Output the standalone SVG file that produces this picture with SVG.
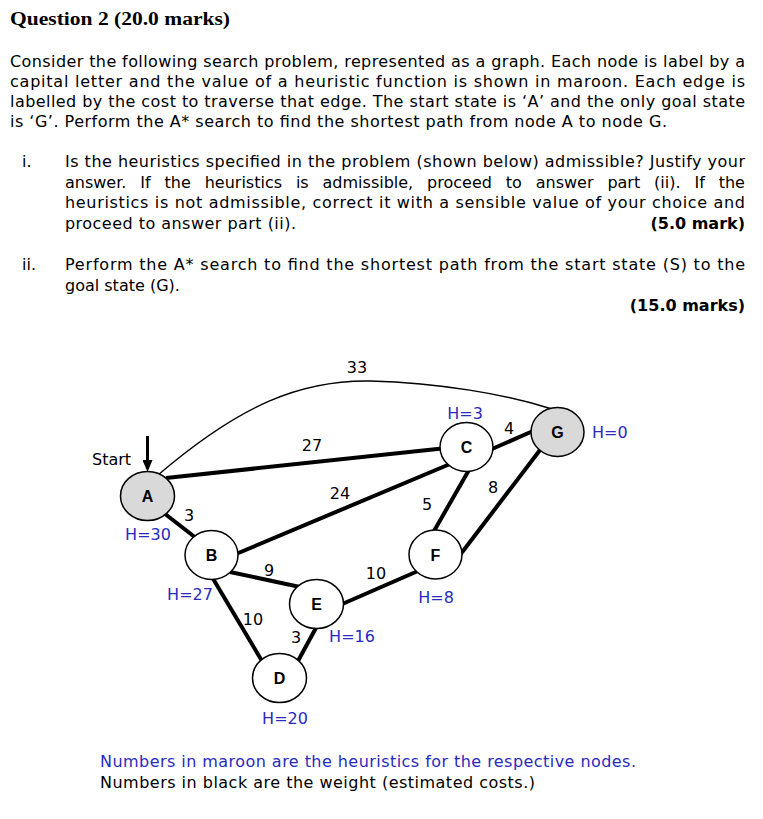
<svg xmlns="http://www.w3.org/2000/svg" width="763" height="819" viewBox="0 0 763 819">
<style>
.t{font-family:"DejaVu Sans",Verdana,sans-serif;font-size:16px;fill:#000}
.b{font-weight:bold}
.title{font-family:"Liberation Serif","DejaVu Serif",serif;font-size:18px;font-weight:bold;fill:#000}
.g{font-family:"DejaVu Sans",Verdana,sans-serif;font-size:16px;fill:#000}
.h{font-family:"DejaVu Sans",Verdana,sans-serif;font-size:16px;fill:#2a2abf}
.nl{font-family:"Liberation Sans",Arial,sans-serif;font-size:16px;font-weight:bold;fill:#000;text-anchor:middle}
.node{fill:#fff;stroke:#000;stroke-width:1.5}
.grey{fill:#d9d9d9}
.e{stroke:#000;stroke-width:4;fill:none;stroke-linecap:butt}
.thin{stroke:#000;stroke-width:1.5;fill:none}
</style>
<defs>
<marker id="ah" viewBox="0 0 12 10" refX="3" refY="5" markerWidth="12" markerHeight="10" orient="auto" markerUnits="userSpaceOnUse">
<path d="M0,0 L12,5 L0,10 z" fill="#000"/>
</marker>
</defs>
<rect width="763" height="819" fill="#fff"/>

<text class="title" x="10" y="25" textLength="220" lengthAdjust="spacingAndGlyphs">Question 2 (20.0 marks)</text>

<text class="t" x="10" y="67" textLength="735" lengthAdjust="spacing">Consider the following search problem, represented as a graph. Each node is label by a</text>
<text class="t" x="10" y="87" textLength="735" lengthAdjust="spacing">capital letter and the value of a heuristic function is shown in maroon. Each edge is</text>
<text class="t" x="10" y="107" textLength="735" lengthAdjust="spacing">labelled by the cost to traverse that edge. The start state is ‘A’ and the only goal state</text>
<text class="t" x="10" y="127" textLength="657" lengthAdjust="spacing">is ‘G’. Perform the A* search to find the shortest path from node A to node G.</text>

<text class="t" x="22" y="167">i.</text>
<text class="t" x="65" y="167" textLength="680" lengthAdjust="spacing">Is the heuristics specified in the problem (shown below) admissible? Justify your</text>
<text class="t" x="65" y="188" word-spacing="8.8">answer. If the heuristics is admissible, proceed to answer part (ii). If the</text>
<text class="t" x="65" y="208" textLength="680" lengthAdjust="spacing">heuristics is not admissible, correct it with a sensible value of your choice and</text>
<text class="t" x="65" y="229" textLength="231" lengthAdjust="spacing">proceed to answer part (ii).</text>
<text class="t b" x="745" y="229" text-anchor="end">(5.0 mark)</text>

<text class="t" x="22" y="270">ii.</text>
<text class="t" x="65" y="270" textLength="680" lengthAdjust="spacing">Perform the A* search to find the shortest path from the start state (S) to the</text>
<text class="t" x="65" y="291">goal state (G).</text>
<text class="t b" x="745" y="311" text-anchor="end">(15.0 marks)</text>

<g id="connectors">
<path class="thin" d="M158,475 C240,405 300,380 370,381 C440,383 505,394 552,409"/>
<line class="e" x1="160" y1="510" x2="196" y2="538"/>
<line class="e" x1="166" y1="478" x2="442" y2="448.5"/>
<line class="e" x1="236" y1="554" x2="450" y2="464"/>
<line class="e" x1="492" y1="449" x2="533" y2="431"/>
<line class="e" x1="469" y1="470" x2="434" y2="531"/>
<line class="e" x1="540" y1="450" x2="460" y2="555"/>
<line class="e" x1="340" y1="605" x2="418" y2="571"/>
<line class="e" x1="230" y1="572" x2="300" y2="587"/>
<line class="e" x1="212" y1="577" x2="262" y2="661"/>
<line class="e" x1="317" y1="626" x2="298" y2="661"/>
<line x1="147.5" y1="436" x2="147.5" y2="463" stroke="#000" stroke-width="3" marker-end="url(#ah)"/>
</g>

<g id="node-A"><ellipse class="node grey" cx="147.5" cy="496" rx="27" ry="24.5"/><text class="nl" x="147.5" y="502">A</text></g>
<g id="node-B"><ellipse class="node" cx="211.5" cy="555" rx="26.5" ry="24.5"/><text class="nl" x="211.5" y="561">B</text></g>
<g id="node-C"><ellipse class="node" cx="466.5" cy="447" rx="26.5" ry="24.5"/><text class="nl" x="466.5" y="453">C</text></g>
<g id="node-G"><ellipse class="node grey" cx="557.5" cy="432" rx="26.5" ry="24.5"/><text class="nl" x="557.5" y="438">G</text></g>
<g id="node-F"><ellipse class="node" cx="435.5" cy="554.5" rx="26.5" ry="24.5"/><text class="nl" x="435.5" y="560.5">F</text></g>
<g id="node-E"><ellipse class="node" cx="316.5" cy="604" rx="27" ry="24.5"/><text class="nl" x="316.5" y="610">E</text></g>
<g id="node-D"><ellipse class="node" cx="279.5" cy="678" rx="27" ry="24.5"/><text class="nl" x="279.5" y="684">D</text></g>

<g id="labels">
<text class="g" x="92" y="465">Start</text>
<text class="g" x="357" y="373" text-anchor="middle">33</text>
<text class="g" x="312" y="451" text-anchor="middle">27</text>
<text class="g" x="340" y="499" text-anchor="middle">24</text>
<text class="g" x="189" y="521" text-anchor="middle">3</text>
<text class="g" x="509" y="434" text-anchor="middle">4</text>
<text class="g" x="493" y="493" text-anchor="middle">8</text>
<text class="g" x="427" y="510" text-anchor="middle">5</text>
<text class="g" x="269" y="576" text-anchor="middle">9</text>
<text class="g" x="376" y="579" text-anchor="middle">10</text>
<text class="g" x="253" y="625" text-anchor="middle">10</text>
<text class="g" x="296" y="643" text-anchor="middle">3</text>
<text class="h" x="148" y="540" text-anchor="middle">H=30</text>
<text class="h" x="465" y="419" text-anchor="middle">H=3</text>
<text class="h" x="592" y="438">H=0</text>
<text class="h" x="436" y="603" text-anchor="middle">H=8</text>
<text class="h" x="190" y="600" text-anchor="middle">H=27</text>
<text class="h" x="352" y="642" text-anchor="middle">H=16</text>
<text class="h" x="285" y="724" text-anchor="middle">H=20</text>
</g>

<text class="h" x="100" y="767" textLength="536" lengthAdjust="spacing">Numbers in maroon are the heuristics for the respective nodes.</text>
<text class="t" x="100" y="788" textLength="435" lengthAdjust="spacing">Numbers in black are the weight (estimated costs.)</text>
</svg>
